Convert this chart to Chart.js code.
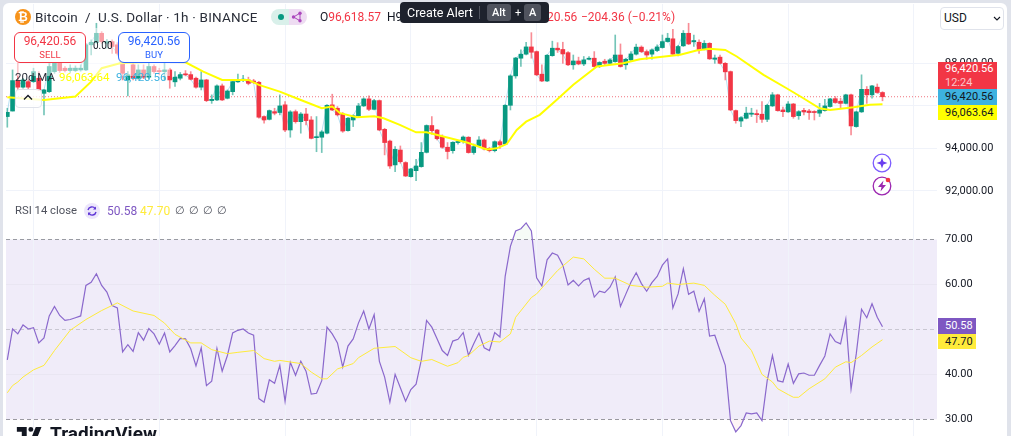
<!DOCTYPE html>
<html>
<head>
<meta charset="utf-8">
<title>BTCUSD</title>
<script src="https://cdn.jsdelivr.net/npm/chart.js@4"></script>
<style>
  html, body { margin: 0; padding: 0; width: 1011px; height: 436px; overflow: hidden; background: #e0e3eb; font-family: Roboto, sans-serif; color: #131722; }
  #card { position: absolute; left: 3px; top: 3px; width: 1004px; height: 440px; background: #fff; border-radius: 6px; }
  canvas { position: absolute; left: 0; }
  #priceCanvas { top: 0; }
  #rsiCanvas { top: 200px; }
  .abs { position: absolute; white-space: nowrap; }
  .tag { position: absolute; left: 938px; width: 52px; padding-left: 7px; text-align: left; font-size: 11px; line-height: 15px; }
  .box { position: absolute; top: 32px; width: 70px; height: 28px; background: #fff; border: 1px solid; border-radius: 6px; text-align: center; font-size: 12px; line-height: 15px; padding-top: 1px; }
  .box small { display: block; font-size: 9.5px; line-height: 12px; }
  .kbd { background: #50535e; border-radius: 3px; padding: 1px 5px; font-size: 11px; font-weight: 500; }
</style>
</head>
<body>
<div id="card"></div>
<canvas id="priceCanvas"></canvas>
<canvas id="rsiCanvas"></canvas>

<!-- chart legend row -->
<div class="abs" style="left:15px;top:9px;width:16px;height:16px;border-radius:50%;background:#f7931a;color:#fff;font-size:12px;line-height:16px;text-align:center;font-weight:700">₿</div>
<div class="abs" style="left:35px;top:8px;font-size:13.5px;line-height:18px;letter-spacing:.2px;color:#2a2e39">Bitcoin &nbsp;/&nbsp; U.S. Dollar · 1h · BINANCE</div>
<div class="abs" style="left:271px;top:9px;width:18px;height:16px;border-radius:8px 0 0 8px;background:#d9f0ea"></div>
<div class="abs" style="left:278px;top:14px;width:6px;height:6px;border-radius:50%;background:#089981"></div>
<div class="abs" style="left:289px;top:9px;width:18px;height:16px;border-radius:0 8px 8px 0;background:#eedcf2"></div>
<svg class="abs" style="left:291px;top:11px" width="12" height="12" viewBox="0 0 12 12"><path d="M2.5 6L9 2.2M2.5 6L9 9.8M9 2.2V9.8" stroke="#ab47bc" stroke-width="1" fill="none"/><circle cx="2.5" cy="6" r="1.7" fill="#ab47bc"/><circle cx="9" cy="2.2" r="1.7" fill="#ab47bc"/><circle cx="9" cy="9.8" r="1.7" fill="#ab47bc"/></svg>
<div class="abs" style="left:320px;top:8px;font-size:12px;line-height:18px;color:#131722">O<span style="color:#f23645">96,618.57</span></div>
<div class="abs" style="left:387px;top:8px;font-size:12px;line-height:18px;color:#131722">H9</div>
<div class="abs" style="left:547px;top:8px;font-size:12px;line-height:18px;color:#f23645">20.56</div>
<div class="abs" style="left:581px;top:8px;font-size:12px;line-height:18px;color:#f23645">−204.36 (−0.21%)</div>

<!-- alert tooltip -->
<div class="abs" style="left:400px;top:2px;width:149px;height:21px;border-radius:4px;background:#1e222d;color:#fff;font-size:12.5px;line-height:21px">
  <span class="abs" style="left:7px">Create Alert</span>
  <span class="abs" style="left:79px;top:4px;width:1px;height:13px;background:#50535e"></span>
  <span class="abs kbd" style="left:87px;top:2px;line-height:15px">Alt</span>
  <span class="abs" style="left:115px;font-size:11px">+</span>
  <span class="abs kbd" style="left:124px;top:2px;line-height:15px">A</span>
</div>

<!-- faded area behind the order buttons -->
<div class="abs" style="left:14px;top:28px;width:156px;height:48px;background:rgba(255,255,255,.5)"></div>
<div class="box" style="left:14px;border-color:#f23645;color:#f23645">96,420.56<small>SELL</small></div>
<div class="box" style="left:118px;border-color:#2962ff;color:#2962ff">96,420.56<small>BUY</small></div>
<div class="abs" style="left:93px;top:40px;font-size:10px;line-height:12px;color:#131722">0.00</div>
<div class="abs" style="left:15px;top:69px;font-size:11.5px;line-height:16px;color:#2a2e39">20d MA</div>
<div class="abs" style="left:59px;top:69px;font-size:11.5px;line-height:16px;color:#ffff00">96,063.64</div>
<div class="abs" style="left:116px;top:69px;font-size:11.5px;line-height:16px;color:#3db2e0">96,420.56</div>
<div class="abs" style="left:15px;top:89px;width:25px;height:17px;border:1px solid #e0e3eb;border-radius:4px;background:rgba(255,255,255,.8)"></div>
<svg class="abs" style="left:22px;top:94px" width="12" height="7" viewBox="0 0 12 7"><path d="M2 5.5L6 1.5L10 5.5" stroke="#131722" stroke-width="1.3" fill="none"/></svg>

<!-- currency select -->
<div class="abs" style="left:940px;top:7px;width:62px;height:21px;border:1px solid #e0e3eb;border-radius:4px;background:#fff"></div>
<div class="abs" style="left:944px;top:9px;font-size:12px;line-height:18px">USD</div>
<svg class="abs" style="left:993px;top:16px" width="8" height="5" viewBox="0 0 8 5"><path d="M1 1L4 4L7 1" stroke="#131722" stroke-width="1.1" fill="none"/></svg>

<!-- price tags -->
<div class="tag" style="top:62px;height:27px;background:#f23645;color:#fff;line-height:13.5px"><span>96,420.56</span><br><span style="color:#fbc4c9">12:24</span></div>
<div class="tag" style="top:89px;height:16px;background:#3db2e0;line-height:16px">96,420.56</div>
<div class="tag" style="top:105px;height:15px;background:#ffff00">96,063.64</div>
<div class="tag" style="top:318px;width:31px;height:16px;background:#7e57c2;color:#fff;line-height:16px">50.58</div>
<div class="tag" style="top:334px;width:31px;height:15px;background:#ffeb3b">47.70</div>

<!-- side buttons -->
<svg class="abs" style="left:872px;top:153px" width="20" height="20" viewBox="0 0 20 20"><circle cx="10" cy="10" r="8.8" fill="#fff" stroke="#7c5cff" stroke-width="1.3"/><path d="M10 4.5L11.4 8.6L15.5 10L11.4 11.4L10 15.5L8.6 11.4L4.5 10L8.6 8.6Z" fill="#6a3df0"/></svg>
<svg class="abs" style="left:872px;top:176px" width="20" height="20" viewBox="0 0 20 20"><circle cx="10" cy="10" r="8.8" fill="#fff" stroke="#9c27b0" stroke-width="1.3"/><path d="M11.5 4.5L6 11H9.5L8.5 15.5L14 9H10.5Z" fill="#9c27b0"/><circle cx="16" cy="4" r="2.3" fill="#f23645"/></svg>

<!-- indicator legend -->
<div class="abs" style="left:15px;top:203px;font-size:11.3px;line-height:16px;color:#50535e">RSI 14 close</div>
<div class="abs" style="left:84px;top:203px;width:16px;height:16px;border-radius:50%;background:#ece6fb"></div>
<svg class="abs" style="left:87px;top:206px" width="10" height="10" viewBox="0 0 10 10"><path d="M1 4A4 4 0 0 1 8.2 2.6M9 6A4 4 0 0 1 1.8 7.4" stroke="#5e35d6" stroke-width="1.4" fill="none"/><path d="M9 0.5V3.5H6ZM1 9.5V6.5H4Z" fill="#5e35d6"/></svg>
<div class="abs" style="left:107px;top:203px;font-size:12px;line-height:16px;color:#7e57c2">50.58</div>
<div class="abs" style="left:140px;top:203px;font-size:12px;line-height:16px;color:#ffeb3b">47.70</div>
<div class="abs" style="left:175px;top:203px;font-size:11px;line-height:16px;letter-spacing:4px;color:#50535e">∅∅∅∅</div>

<!-- watermark -->
<svg class="abs" style="left:15px;top:422px" width="30" height="23" viewBox="0 0 36 28"><path d="M14 6H2v6h6v9h6V6Zm12 15h-7l6-15h7l-6 15Zm-7-9a3 3 0 1 0 0-6 3 3 0 0 0 0 6Z" fill="#131722"/></svg>
<div class="abs" style="left:50px;top:422px;font-size:19px;line-height:24px;font-weight:700;color:#131722">TradingView</div>

<script>
// candles, one per hour
const opens = [
  95490,95750,97180,96870,97130,97130,97290,96580,96660,97600,
  98070,97760,97650,97650,97680,97680,98860,98960,99400,98930,
  99010,98860,98460,97210,97920,97290,97680,97340,97840,97650,
  97600,97680,97120,97290,97490,97460,97290,96870,97210,96240,
  96270,96930,96350,96660,97120,97200,97210,97160,97100,95490,
  95360,95720,95680,96040,94860,95720,95250,95610,95330,94500,
  94520,94710,96040,95880,95610,94830,95330,95530,95990,96320,
  95830,96240,94890,94340,93220,93920,93330,92670,92950,93140,
  93810,95070,94860,94550,94050,93890,94270,94330,94520,93800,
  94110,94390,94000,93890,94310,94200,96020,97400,98230,98420,
  98760,98540,97480,97160,98350,98700,98640,98490,97920,98100,
  97960,98180,98230,97840,98090,97990,98070,98380,97920,98150,
  98420,98750,98540,98420,98590,98730,99010,99140,98460,98810,
  99400,99000,98980,98650,98930,98180,98280,97990,97600,95770,
  95280,95410,95600,95630,95600,95360,95990,96510,95800,95710,
  96080,95530,95780,95750,95710,95650,95770,95960,96330,96210,
  96110,96510,95020,95710,96770,96510,96870,96620
];
const highs = [
  95880,97680,97990,97290,97210,97760,97600,96770,97990,98460,
  98380,97840,97920,97870,97920,98930,99090,99870,99480,99120,
  99090,98960,98620,97600,97990,97920,97920,97990,97920,97760,
  98070,97760,97600,97560,97650,97600,97340,97600,97240,96510,
  96980,97020,96740,97210,97490,97430,97340,97240,97150,95520,
  95800,95880,96510,96190,95770,95800,95680,95880,95490,95490,
  94830,96050,96540,95960,95680,95460,95570,96110,96370,96460,
  96300,96270,94940,94390,94080,94110,93370,93060,93480,94270,
  95100,95490,94890,94630,94270,94310,94360,94580,94550,94200,
  94550,94440,94050,94350,94390,96050,97450,98270,98620,98980,
  99430,98570,97920,98400,99030,98960,98980,98540,98380,98280,
  98310,98310,98540,98070,98180,98210,99320,98900,98230,98540,
  98890,98810,98620,98670,98860,99320,99400,99590,98840,99530,
  99870,99320,99090,99060,98960,98380,98380,98030,97630,95800,
  95490,95930,95880,95800,96190,96070,96620,96540,95930,96190,
  96110,95770,95880,95830,95770,96110,96300,96350,96430,96350,
  96540,96540,95740,97450,96900,96960,97020,96660
];
const lows = [
  94990,95750,96740,96820,96770,97090,96710,95570,96620,97520,
  97560,97590,97560,97600,97620,97650,98380,98930,98930,98700,
  98460,98380,97210,96460,97210,97240,97270,97270,97520,97450,
  97210,96820,96900,97210,97400,97210,96820,96740,96190,96110,
  96240,96240,96320,96510,97090,97130,96980,97050,95410,95180,
  95330,95570,95570,94780,94520,95180,94710,95100,94440,93840,
  93800,94670,95770,95520,94750,94800,95020,95500,95960,95770,
  95800,94830,93690,93060,92900,93300,92670,92640,92480,93110,
  93780,94660,94390,94000,93500,93770,94200,94240,93770,93720,
  94080,93920,93830,93830,94000,94170,95800,97290,97840,98380,
  98230,97410,97130,97130,98320,98500,97990,97880,97710,97920,
  97880,98150,97810,97790,97920,97950,98040,97810,97710,98120,
  98380,98490,98180,98180,98540,98700,98980,98380,98340,98780,
  98870,98780,98460,98620,98170,97990,97960,97210,95770,95180,
  95020,95380,95490,95210,95210,95250,95960,95740,95490,95680,
  95410,95360,95570,95360,95330,95490,95740,95930,96110,95880,
  96080,94630,94990,95680,96110,96350,96580,96230
];
const closes = [
  95690,97180,96870,97210,96870,97600,96740,96740,97840,98380,
  97650,97650,97760,97760,97760,98860,98980,99400,99010,99010,
  98780,98460,97520,97450,97290,97680,97340,97840,97600,97600,
  97680,97210,97340,97460,97450,97240,96870,97210,96240,96300,
  96930,96270,96690,97130,97160,97230,97050,97100,95460,95330,
  95770,95650,95990,94860,95710,95250,95610,95300,94470,94530,
  94770,96020,95800,95570,94810,95410,95530,95990,96320,95830,
  96240,94860,94270,93170,93950,93370,92700,93030,93170,93810,
  95070,94830,94450,94050,93850,94280,94310,94530,93800,94080,
  94390,93970,93890,94310,94160,96020,97400,98240,98420,98760,
  98510,97450,97160,98370,98700,98620,98430,97920,98100,97960,
  98150,98230,97840,98030,97990,98150,98380,97840,98180,98430,
  98750,98540,98380,98620,98760,99010,99170,98420,98780,99400,
  98900,99060,98620,98930,98200,98240,97990,97590,95800,95300,
  95440,95650,95650,95580,95360,96020,96510,95770,95720,96080,
  95490,95720,95710,95680,95680,95800,95990,96320,96150,96110,
  96510,95050,95710,96770,96510,96930,96620,96420
];

// 20d MA, read at its bends
const maBars = [0,7,13,16,18,21.5,29,34,37.4,41,46,48,52,56,60,62,63.5,66.7,70,71.8,74.9,78,80,83.2,87.7,91.5,93.4,95.3,97.2,99,101.6,104.8,108,112.5,117.5,120.7,128.4,131.5,134,137,139.2,144.3,148.7,151.9,155,157,161.5,164.6,167];
const maValues = [96400,96270,96430,97130,97760,97990,98070,98040,97600,97210,97210,96980,96660,96270,95880,95960,95650,95460,95500,95410,95100,94750,94750,94550,94270,93950,94000,94200,94860,95250,95570,96270,96980,97840,97990,98180,98390,98590,98670,98620,98310,97450,96820,96350,95880,95800,95930,96040,96064];

const lastPrice = 96420.56;
const priceTicks = [92000, 94000, 96000, 98000];

// RSI pane
const rsiValues = [
  43.2,50.1,49.0,51.0,50.1,50.4,47.0,48.1,53.0,55.1,
  53.1,52.0,52.2,52.6,53.0,59.8,60.5,62.4,59.8,58.3,
  55.3,54.8,45.0,46.6,45.1,49.3,47.6,50.2,49.0,46.7,
  49.2,45.0,46.4,48.0,47.9,45.7,41.9,45.9,37.5,38.5,
  45.8,40.7,44.2,49.2,49.8,50.1,49.2,48.7,34.6,33.8,
  38.8,38.0,42.0,34.0,42.7,39.8,42.9,40.7,35.6,35.8,
  38.6,50.5,49.0,47.0,41.6,46.3,47.9,51.4,54.1,50.1,
  53.3,42.9,39.4,33.8,40.0,37.0,34.0,36.6,37.8,43.2,
  52.0,50.5,47.9,45.3,44.2,47.4,47.8,49.3,44.2,46.8,
  49.2,45.9,45.3,49.3,48.3,61.8,68.5,71.9,72.4,73.7,
  71.9,61.5,59.7,65.5,67.0,66.5,64.3,59.9,60.9,59.7,
  60.9,61.4,57.2,58.5,58.2,59.4,61.7,55.1,57.8,60.5,
  62.6,60.2,58.5,60.4,61.8,64.3,65.7,54.8,57.9,63.5,
  57.8,58.5,54.0,56.8,48.5,48.7,45.3,42.0,29.7,27.2,
  28.6,31.4,31.2,31.4,29.7,38.6,44.2,38.6,38.3,42.3,
  38.0,40.1,40.3,39.8,39.8,42.0,44.1,49.0,47.3,46.8,
  52.3,36.7,44.6,54.5,52.6,55.7,52.7,50.58
];
const rsiMaBars = [0,1,2,3,5,7,9,12,15,18,21,24,28,30,32,35,37,39,42,44,47,49,51,52,56,58,60,61,63,66,67,70,74,77,79,81,84,86,87,88,90,92,94,96,97,100,101,105,108,110,112,114,116,119,122,125,126,128,131,133,135,137,139,140,142,144,146,147,149,150,151,153,156,158,160,161,163,165,167];
const rsiMaValues = [35.9,37.5,38.3,39.4,41.0,42.0,45.3,49.8,52.2,54.2,55.9,54.1,53.1,51.4,48.9,47.0,47.0,45.5,44.6,44.9,45.3,43.5,42.9,43.1,42.4,40.5,39.0,39.0,41.2,42.4,43.7,45.8,46.2,43.7,42.9,43.3,41.8,42.6,43.8,44.2,46.3,47.4,47.2,49.0,52.7,57.1,57.9,63.1,66.1,65.7,63.4,61.4,61.4,59.8,59.4,59.6,60.3,60.0,60.3,59.8,57.6,55.6,51.3,48.1,45.3,40.0,38.3,36.8,35.5,34.9,34.9,36.8,39.0,41.6,42.8,42.6,44.2,46.1,47.7];
const rsiTicks = [30, 40, 50, 60, 70];
const rsiBand = [30, 70];

// vertical grid, one line per day
const dayBars = [5, 29, 53, 77, 101, 125, 149, 173];

const UP = '#089981';
const DOWN = '#f23645';
const GRID = '#f0f3fa';
const W = 1011;
const PRICE_H = 200;
const RSI_H = 236;
const xMin = -0.25;
const xMax = 177.4;

Chart.defaults.animation = false;
Chart.defaults.responsive = false;
Chart.defaults.font.family = 'Roboto, sans-serif';

function xScale() {
  return {
    type: 'linear', min: xMin, max: xMax, offset: false,
    afterBuildTicks: s => { s.ticks = dayBars.map(v => ({ value: v })); },
    afterFit: s => { s.height = 0; },
    ticks: { display: false },
    border: { display: false },
    grid: { color: GRID, drawTicks: false, offset: false }
  };
}

// fixed width price column, no extra room for the first and last label
function fitAxis(s) {
  s.width = 74;
  s.paddingTop = 0;
  s.paddingBottom = 0;
}

function setSize(id, h) {
  const c = document.getElementById(id);
  c.width = W;
  c.height = h;
  c.style.width = W + 'px';
  c.style.height = h + 'px';
  return c.getContext('2d');
}

const candleColor = closes.map((c, i) => c >= opens[i] ? UP : DOWN);

new Chart(setSize('priceCanvas', PRICE_H), {
  type: 'bar',
  data: {
    datasets: [
      { type: 'line', data: closes.map((c, i) => ({ x: i, y: c })), borderColor: '#b7dff1', borderWidth: 1, pointRadius: 0, order: 6 },
      { type: 'line', data: [{ x: xMin, y: lastPrice }, { x: xMax, y: lastPrice }], borderColor: '#f0737e', borderWidth: 1, borderDash: [1, 2], pointRadius: 0, order: 5 },
      { data: highs.map((h, i) => ({ x: i, y: [lows[i], h] })), backgroundColor: candleColor.map(c => c + '90'), barThickness: 1, grouped: false, order: 4 },
      { data: opens.map((o, i) => ({ x: i, y: [o, closes[i]] })), backgroundColor: candleColor, barThickness: 4, minBarLength: 1, grouped: false, order: 3 },
      { type: 'line', data: maValues.map((v, i) => ({ x: maBars[i], y: v })), borderColor: '#ffff00', borderWidth: 2, pointRadius: 0, order: 1 }
    ]
  },
  options: {
    devicePixelRatio: 1,
    layout: { padding: { left: 6, top: 4, right: 0, bottom: 0 } },
    plugins: { legend: { display: false }, tooltip: { enabled: false } },
    scales: {
      x: xScale(),
      y: {
        position: 'right', min: 91573, max: 100775,
        afterBuildTicks: s => { s.ticks = priceTicks.map(v => ({ value: v })); },
        afterFit: fitAxis,
        border: { display: false },
        grid: { color: GRID, drawTicks: false },
        ticks: { color: '#131722', font: { size: 11 }, padding: 8, callback: v => v.toLocaleString('en-US', { minimumFractionDigits: 2 }) }
      }
    }
  }
});

// shaded 30-70 band under the RSI lines
const bandPlugin = {
  id: 'rsiBand',
  beforeDraw(chart) {
    const { ctx, chartArea, scales } = chart;
    const top = scales.y.getPixelForValue(rsiBand[1]);
    const bottom = scales.y.getPixelForValue(rsiBand[0]);
    ctx.save();
    ctx.fillStyle = '#f0ecf9';
    ctx.fillRect(chartArea.left, top, chartArea.right - chartArea.left, bottom - top);
    ctx.restore();
  }
};

const rsiPoints = rsiValues.map((v, i) => ({ x: i, y: v }));

new Chart(setSize('rsiCanvas', RSI_H), {
  type: 'line',
  plugins: [bandPlugin],
  data: {
    datasets: [
      { data: rsiPoints, borderWidth: 0, pointRadius: 0, fill: { target: { value: 70 }, above: 'rgba(76,175,80,.05)', below: 'transparent' }, order: 4 },
      { data: rsiPoints, borderWidth: 0, pointRadius: 0, fill: { target: { value: 30 }, above: 'transparent', below: 'rgba(242,54,69,.05)' }, order: 3 },
      { data: rsiPoints, borderColor: '#8a68cc', borderWidth: 1.2, pointRadius: 0, order: 2 },
      { data: rsiMaValues.map((v, i) => ({ x: rsiMaBars[i], y: v })), borderColor: '#ffeb3b', borderWidth: 1, pointRadius: 0, order: 1 }
    ]
  },
  options: {
    devicePixelRatio: 1,
    layout: { padding: { left: 6, top: 0, right: 0, bottom: 0 } },
    plugins: { legend: { display: false }, tooltip: { enabled: false } },
    scales: {
      x: xScale(),
      y: {
        position: 'right', min: 26.28, max: 78.8,
        afterBuildTicks: s => { s.ticks = rsiTicks.map(v => ({ value: v })); },
        afterFit: fitAxis,
        border: { display: false, dash: c => (rsiBand.includes(c.tick.value) || c.tick.value === 50) ? [4, 3] : [] },
        grid: {
          drawTicks: false,
          color: c => rsiBand.includes(c.tick.value) ? '#9a9ba3' : c.tick.value === 50 ? '#c9c7d2' : '#e9e6f2'
        },
        ticks: { color: '#131722', font: { size: 11 }, padding: 8, callback: v => v.toFixed(2) }
      }
    }
  }
});
</script>
</body>
</html>
